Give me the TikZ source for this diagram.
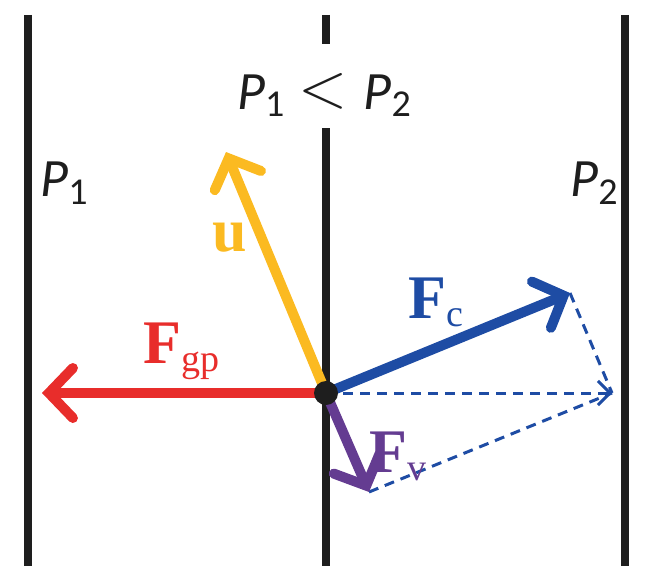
\documentclass[tikz,border=0pt]{standalone}
\usepackage{graphicx}
\usepackage{fontspec}
\setmainfont{Liberation Serif}
\newfontfamily\pfont{Carlito}
\usetikzlibrary{arrows.meta}
\definecolor{cyel}{RGB}{251,186,33}
\definecolor{cred}{RGB}{232,45,43}
\definecolor{cblue}{RGB}{30,76,164}
\definecolor{cpur}{RGB}{100,60,145}
\definecolor{cblk}{RGB}{30,30,30}
\tikzset{
  wall/.style={line width=8pt, cblk},
  vec/.style={line width=10pt, line cap=round, -{Straight Barb[length=24pt,width=50pt,line cap=round,line width=10pt]}},
  dsh/.style={cblue, line width=3pt, dash pattern=on 10pt off 7pt},
  plab/.style={font=\pfont\fontsize{54}{54}\selectfont, cblk},
  vlab/.style={font=\bfseries\fontsize{62}{62}\selectfont}
}
\newcommand{\psub}[1]{\raisebox{-0.3ex}{\upshape\fontsize{38}{38}\selectfont #1}}
\newcommand{\vsub}[1]{\raisebox{-0.3ex}{\mdseries\fontsize{38}{38}\selectfont #1}}
\begin{document}
\begin{tikzpicture}[x=1pt,y=-1pt]
\useasboundingbox (0,0) rectangle (650,586);
\coordinate (lt) at (28,15); \coordinate (lb) at (28,566);
\coordinate (rt) at (625,15); \coordinate (rb) at (625,566);
\coordinate (mt) at (326,15); \coordinate (mg) at (326,44);
\coordinate (mh) at (326,128); \coordinate (mb) at (326,566);
\draw[wall] (lt) -- (lb);
\draw[wall] (rt) -- (rb);
\draw[wall] (mt) -- (mg);
\draw[wall] (mh) -- (mb);
\node[circle, fill=cblk, inner sep=0pt, minimum size=22pt] (o) at (326,393) {};
\coordinate (fc) at (570,293);
\coordinate (fv) at (369,492);
\coordinate (s) at (612,393);
\draw[dsh] (fc) -- (s);
\draw[dsh] (fv) -- (s);
\draw[dsh, -{Straight Barb[length=12pt,width=24pt,line width=3pt]}] (o.center) -- (s);
\draw[vec, cyel] (o.center) -- (226,152) coordinate (ut);
\draw[vec, cred] (o.center) -- (42,393) coordinate (gp);
\draw[vec, cblue] (o.center) -- (fc);
\draw[vec, cpur] (o.center) -- (fv);
\node[circle, fill=cblk, inner sep=0pt, minimum size=24pt] at (o) {};
\node[plab] (p1) at (64,183) {\itshape P\/\psub{1}};
\node[plab] (p2) at (594,183) {\itshape P\/\psub{2}};
\node[plab] (pc) at (324,95) {\itshape P\/\psub{1}\hspace*{14pt}\raisebox{2pt}{\scalebox{2.6}{$<$}}\hspace*{16pt}\itshape P\/\psub{2}};
\node[vlab, cyel] (ul) at (230,238) {u};
\node[vlab, cred, anchor=base west] (gl) at (140,363) {F\vsub{gp}};
\node[vlab, cblue, anchor=base west] (cl) at (405,318) {F\vsub{c}};
\node[vlab, cpur, anchor=base west] (vl) at (366,472) {F\vsub{v}};
\end{tikzpicture}
\end{document}
